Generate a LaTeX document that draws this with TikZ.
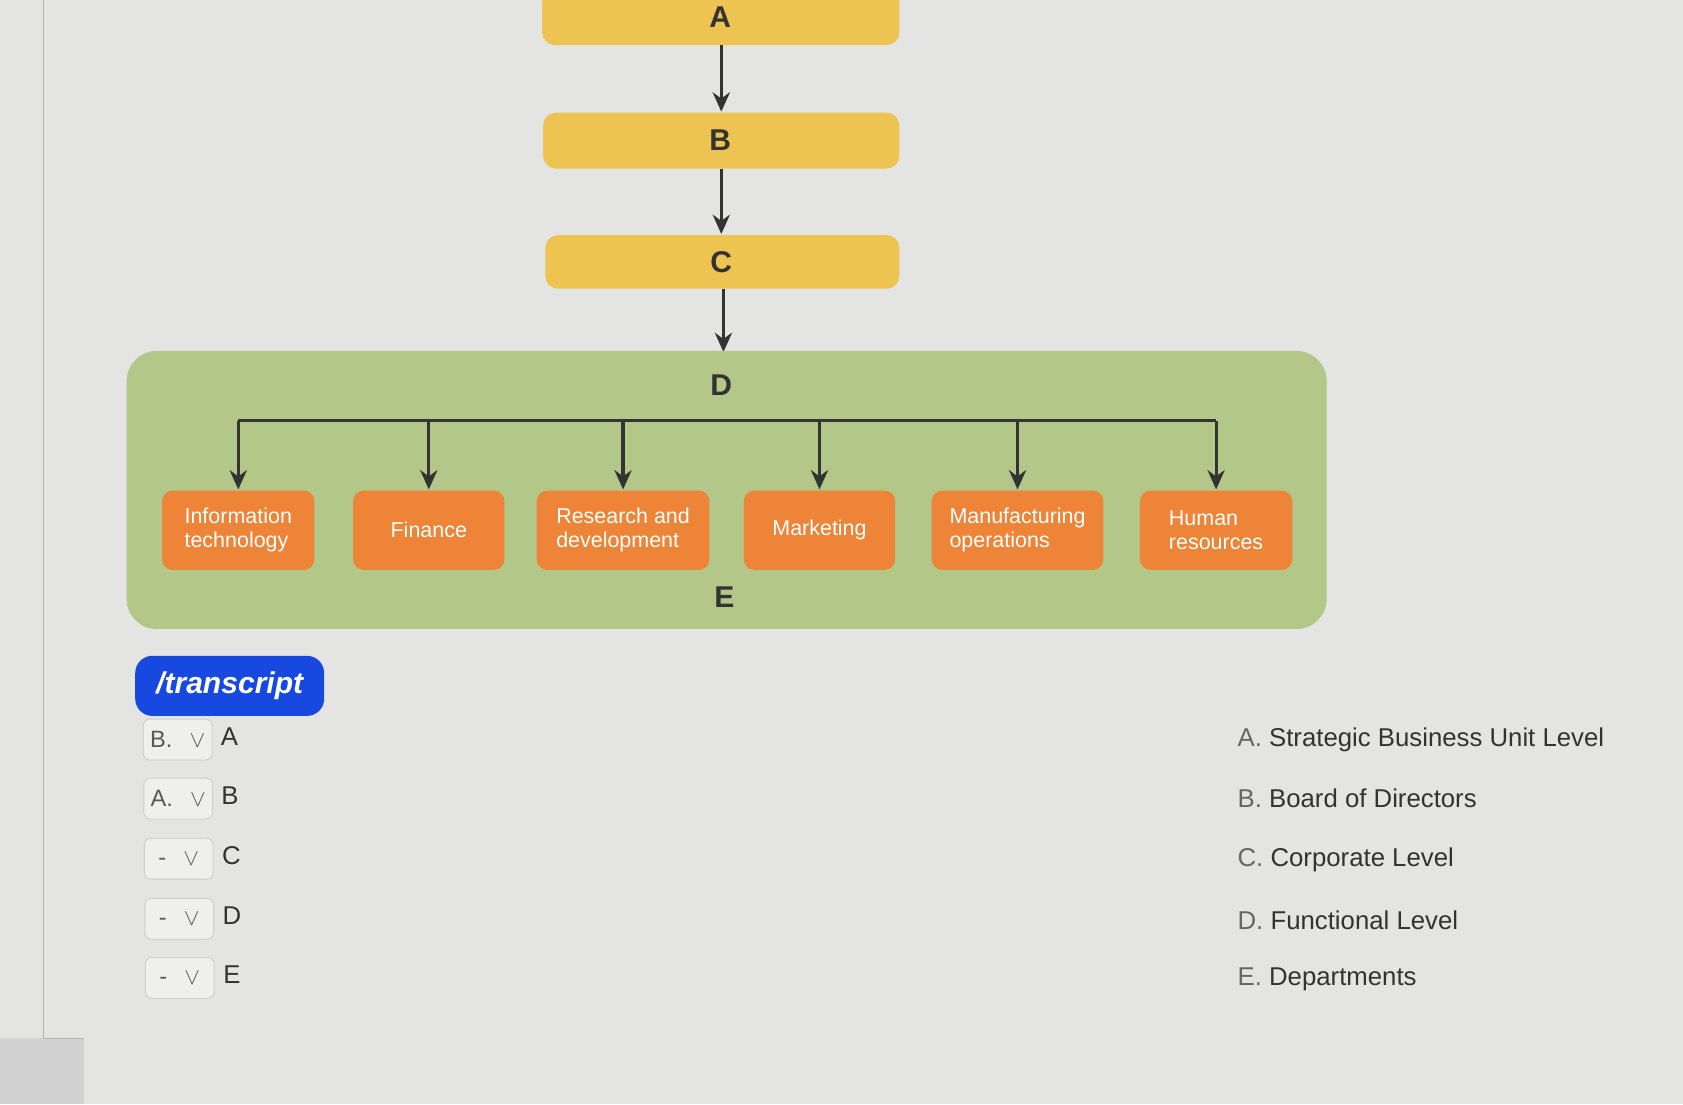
\documentclass[tikz,border=0pt]{standalone}
\usepackage{fontspec}
\setmainfont{Liberation Sans}
\usetikzlibrary{arrows.meta}
\definecolor{bg}{HTML}{E4E4E2}
\definecolor{yel}{HTML}{EDC452}
\definecolor{grn}{HTML}{B3C789}
\definecolor{org}{HTML}{EE8437}
\definecolor{blu}{HTML}{1748E0}
\definecolor{txt}{HTML}{333333}
\begin{document}
\begin{tikzpicture}[x=0.5pt,y=-0.5pt,
  ybox/.style={fill=yel,rounded corners=6pt,draw=none},
  obox/.style={fill=org,rounded corners=5pt,draw=none,text=white,font=\fontsize{10}{11}\selectfont,align=left,inner sep=0pt},
  lvl/.style={font=\bfseries\fontsize{14}{14}\selectfont,text=txt},
  arr/.style={-{Stealth[length=9pt,width=8pt]},line width=1.5pt,draw=txt},
  dd/.style={draw=gray!40,fill=bg!60!white,rounded corners=3pt,minimum width=32pt,minimum height=19pt,inner sep=0pt,font=\fontsize{11}{11}\selectfont,text=gray!70!black},
  opt/.style={anchor=west,font=\fontsize{12}{13}\selectfont,text=txt}]
\useasboundingbox (0,0) rectangle (1568,1029);
\fill[bg] (0,0) rectangle (1568,1029);
\fill[gray!35] (0,967) rectangle (78,1029);
\draw[gray!60] (40,0) -- (40,967) -- (78,967);
% top boxes
\fill[ybox] (505,-10) rectangle (838,42);
\node[lvl] (A) at (671,16) {A};
\fill[ybox] (506,105) rectangle (838,157);
\node[lvl] (B) at (671,131) {B};
\fill[ybox] (508,219) rectangle (838,269);
\node[lvl] (C) at (672,244) {C};
\coordinate (a1) at (672,42); \coordinate (b0) at (672,104);
\coordinate (b1) at (672,157); \coordinate (c0) at (672,218);
\coordinate (c1) at (674,269); \coordinate (d0) at (674,328);
\draw[arr] (a1) -- (b0);
\draw[arr] (b1) -- (c0);
\draw[arr] (c1) -- (d0);
% green
\fill[grn,rounded corners=14pt] (118,327) rectangle (1236,586);
\node[lvl] (D) at (672,359) {D};
\node[lvl] (E) at (675,556) {E};
% orange boxes
\foreach \n/\xa/\xb/\t in {it/151/293/{Information\\technology},fi/329/470/{Finance},rd/500/661/{Research and\\development},mk/693/834/{Marketing},mo/868/1028/{Manufacturing\\operations},hr/1062/1204/{Human\\resources}}{
  \fill[org,rounded corners=5pt] (\xa,457) rectangle (\xb,531);
  \node[obox] (\n) at ({(\xa+\xb)/2},494) {\t};
  \coordinate (\n t) at ({(\xa+\xb)/2},456);
  \coordinate (\n h) at ({(\xa+\xb)/2},392);
}
\draw[line width=1.5pt,draw=txt] (ith) -- (hrh);
\foreach \n in {it,fi,rd,mk,mo,hr}{\draw[arr] (\n h) -- (\n t);}
% transcript
\node[fill=blu,rounded corners=8pt,minimum width=88pt,minimum height=28pt,text=white,font=\bfseries\itshape\fontsize{14}{14}\selectfont] (tr) at (214,639) {/transcript};
% dropdowns
\foreach \i/\y/\v/\l in {1/689/B./A,2/744/A./B,3/800/-/C,4/856/-/D,5/911/-/E}{
  \node[dd] (dd\i) at ({165+0.5*\i},\y) {\v\hspace{8pt}$\vee$};
  \node[opt] (lb\i) at ({198+0.6*\i},{\y-3}) {\l};
}
\node[opt] (o1) at (1146,689) {\textcolor{gray!80!black}{A.} Strategic Business Unit Level};
\node[opt] (o2) at (1146,744) {\textcolor{gray!80!black}{B.} Board of Directors};
\node[opt] (o3) at (1146,801) {\textcolor{gray!80!black}{C.} Corporate Level};
\node[opt] (o4) at (1146,857) {\textcolor{gray!80!black}{D.} Functional Level};
\node[opt] (o5) at (1146,912) {\textcolor{gray!80!black}{E.} Departments};
\end{tikzpicture}
\end{document}
